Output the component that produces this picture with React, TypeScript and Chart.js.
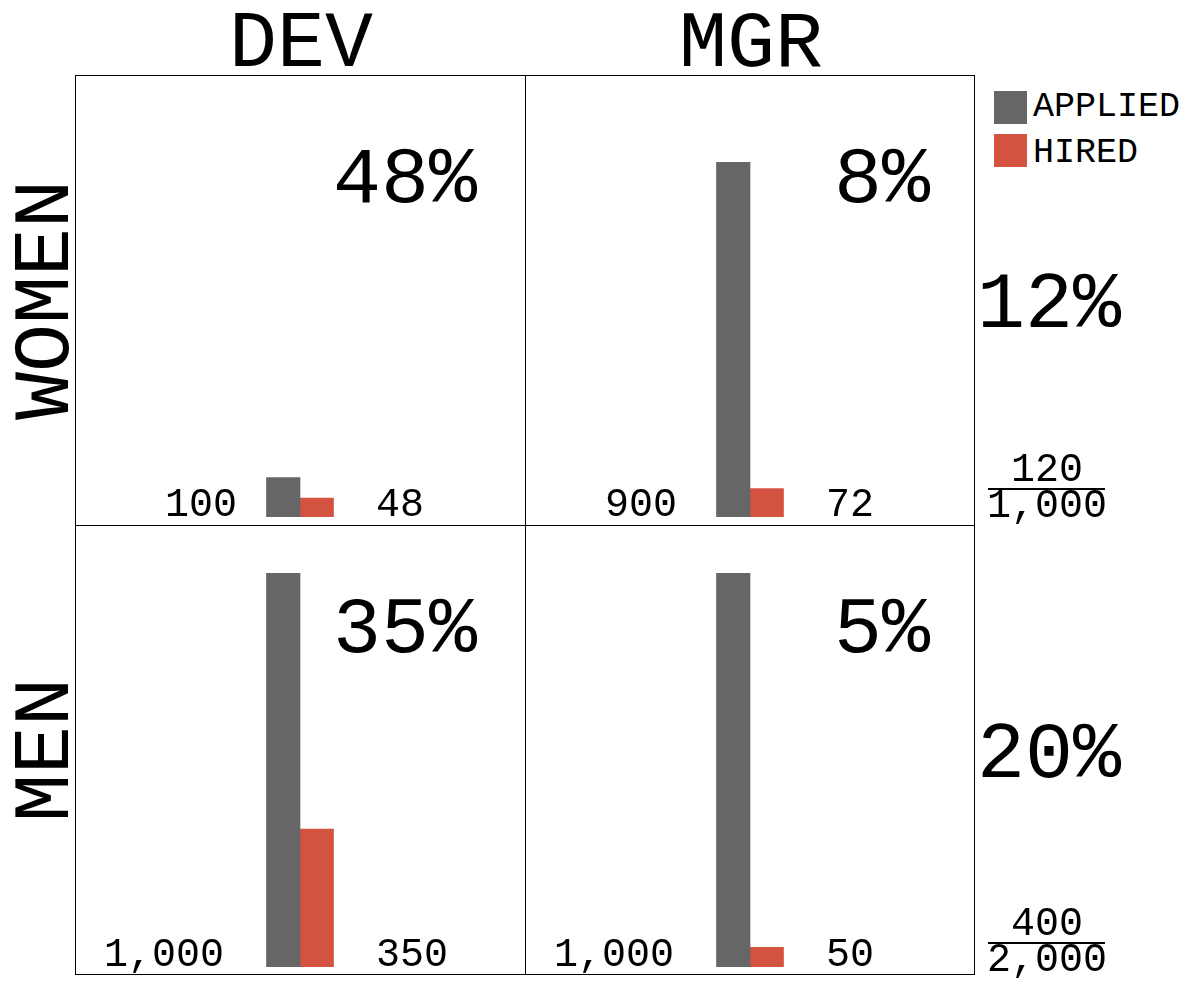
import { useEffect, useRef } from 'react'
import { Chart, registerables } from 'chart.js'

Chart.register(...registerables)

// data
const roles = ['DEV', 'MGR']
const groups = ['WOMEN', 'MEN']
const seriesNames = ['APPLIED', 'HIRED']
const appliedWomen = [100, 900]
const hiredWomen = [48, 72]
const appliedMen = [1000, 1000]
const hiredMen = [350, 50]
const yMax = 1000

// styles / layout
const APPLIED_COLOR = '#666666'
const HIRED_COLOR = '#d45240'
const FONT = '"Liberation Mono", "DejaVu Sans Mono", monospace'
const PANEL = 450
const GRID_LEFT = 75
const GRID_TOP = 75
const BAR_W = 33.5
// right edge of the left value label, per row / column (panel relative)
const leftLabelRight = [
  [162, 152],
  [149, 149],
]
// right edge of the big percentage, per column
const pctRight = [402, 405]
// vertical nudge of the fraction block, per row
const fractionShift = [0, 4]

const fmt = (n: number) => n.toLocaleString('en-US')
const pct = (h: number, a: number) => Math.round((h / a) * 100) + '%'

type Align = 'left' | 'center' | 'right'

function Label({ x, baseline, size, align = 'left', children }: {
  x: number
  baseline: number
  size: number
  align?: Align
  children: React.ReactNode
}) {
  const w = 600
  const left = align === 'left' ? x : align === 'center' ? x - w / 2 : x - w
  return (
    <div
      style={{
        position: 'absolute',
        left,
        top: baseline - 0.766 * size,
        width: w,
        fontSize: size,
        lineHeight: `${size}px`,
        height: size,
        textAlign: align,
        whiteSpace: 'pre',
        color: '#000',
      }}
    >
      {children}
    </div>
  )
}

function Panel({ applied, hired, left, top, labelRight, percentRight }: {
  applied: number
  hired: number
  left: number
  top: number
  labelRight: number
  percentRight: number
}) {
  const ref = useRef<HTMLCanvasElement>(null)

  useEffect(() => {
    if (!ref.current) return
    const chart = new Chart(ref.current, {
      type: 'bar',
      data: {
        labels: [''],
        datasets: [
          { label: seriesNames[0], data: [applied], backgroundColor: APPLIED_COLOR, barThickness: BAR_W },
          { label: seriesNames[1], data: [hired], backgroundColor: HIRED_COLOR, barThickness: BAR_W },
        ],
      },
      options: {
        responsive: true,
        maintainAspectRatio: false,
        animation: false,
        layout: { padding: { top: 48, bottom: 8, left: 0, right: 0 } },
        plugins: {
          legend: { display: false },
          tooltip: { enabled: false },
        },
        scales: {
          x: { display: false },
          y: { display: false, min: 0, max: yMax },
        },
      },
    })
    return () => chart.destroy()
  }, [applied, hired])

  return (
    <>
      <div style={{ position: 'absolute', left, top, width: PANEL, height: PANEL }}>
        <canvas ref={ref} />
      </div>
      <Label x={left + labelRight} baseline={top + 442} size={40} align="right">{fmt(applied)}</Label>
      <Label x={left + 301} baseline={top + 442} size={40}>{fmt(hired)}</Label>
      <Label x={left + percentRight} baseline={top + 127} size={80} align="right">{pct(hired, applied)}</Label>
    </>
  )
}

export default function App() {
  const appliedRows = [appliedWomen, appliedMen]
  const hiredRows = [hiredWomen, hiredMen]
  const sum = (a: number[]) => a.reduce((s, v) => s + v, 0)

  return (
    <div
      style={{
        position: 'absolute',
        left: 0,
        top: 0,
        width: 1200,
        height: 994,
        background: '#fff',
        fontFamily: FONT,
        overflow: 'hidden',
      }}
    >
      {/* column headers */}
      {roles.map((r, c) => (
        <Label key={r} x={GRID_LEFT + c * PANEL + PANEL / 2 + 1} baseline={66} size={80} align="center">{r}</Label>
      ))}

      {/* row headers */}
      {groups.map((g, r) => (
        <div
          key={g}
          style={{
            position: 'absolute',
            left: 46.7 - 200,
            top: GRID_TOP + r * PANEL + PANEL / 2 - 40,
            width: 400,
            height: 80,
            fontSize: 80,
            lineHeight: '80px',
            textAlign: 'center',
            transform: 'rotate(-90deg)',
            transformOrigin: 'center',
            whiteSpace: 'pre',
          }}
        >
          {g}
        </div>
      ))}

      {/* panels */}
      {groups.map((g, r) =>
        roles.map((role, c) => (
          <Panel
            key={g + role}
            applied={appliedRows[r][c]}
            hired={hiredRows[r][c]}
            left={GRID_LEFT + c * PANEL}
            top={GRID_TOP + r * PANEL}
            labelRight={leftLabelRight[r][c]}
            percentRight={pctRight[c]}
          />
        ))
      )}

      {/* grid lines */}
      <div
        style={{
          position: 'absolute',
          left: GRID_LEFT,
          top: GRID_TOP,
          width: PANEL * 2,
          height: PANEL * 2,
          border: '1px solid #000',
          boxSizing: 'border-box',
          pointerEvents: 'none',
        }}
      />
      <div style={{ position: 'absolute', left: GRID_LEFT + PANEL - 0.5, top: GRID_TOP, width: 1, height: PANEL * 2, background: '#000' }} />
      <div style={{ position: 'absolute', left: GRID_LEFT, top: GRID_TOP + PANEL - 0.5, width: PANEL * 2, height: 1, background: '#000' }} />

      {/* legend */}
      {seriesNames.map((n, i) => (
        <div key={n}>
          <div
            style={{
              position: 'absolute',
              left: 994,
              top: 91 + i * 43,
              width: 33,
              height: 33,
              background: i === 0 ? APPLIED_COLOR : HIRED_COLOR,
            }}
          />
          <Label x={1033} baseline={117 + i * 46} size={35}>{n}</Label>
        </div>
      ))}

      {/* row totals */}
      {groups.map((g, r) => {
        const h = sum(hiredRows[r])
        const a = sum(appliedRows[r])
        const top = GRID_TOP + r * PANEL
        const f = top + fractionShift[r]
        return (
          <div key={g + 'total'}>
            <Label x={977} baseline={top + 252} size={80}>{pct(h, a)}</Label>
            <Label x={1047} baseline={f + 407} size={40} align="center">{fmt(h)}</Label>
            <div style={{ position: 'absolute', left: 988, top: f + 413, width: 117, height: 2, background: '#000' }} />
            <Label x={1047} baseline={f + 443} size={40} align="center">{fmt(a)}</Label>
          </div>
        )
      })}
    </div>
  )
}
